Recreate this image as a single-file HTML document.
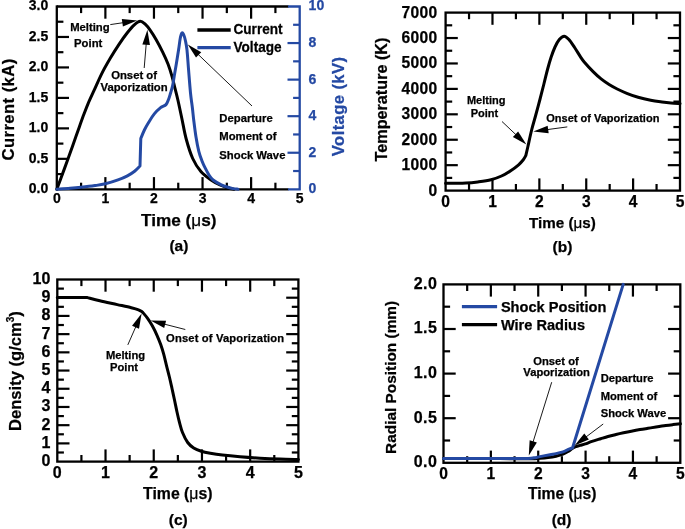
<!DOCTYPE html>
<html><head><meta charset="utf-8"><title>Wire explosion plots</title>
<style>
html,body{margin:0;padding:0;background:#fff;}
body{width:685px;height:529px;overflow:hidden;}
svg{display:block;}
text{font-family:"Liberation Sans",Arial,sans-serif;stroke-width:0.25px;}
</style></head><body>
<svg width="685" height="529" viewBox="0 0 685 529">
<rect width="685" height="529" fill="#fff"/>
<line x1="56.8" y1="6.5" x2="288.5" y2="6.5" stroke="#000" stroke-width="2.3" stroke-linecap="butt"/>
<line x1="56.8" y1="189.3" x2="288.5" y2="189.3" stroke="#000" stroke-width="2.3" stroke-linecap="butt"/>
<line x1="56.8" y1="5.35" x2="56.8" y2="190.45" stroke="#000" stroke-width="2.3" stroke-linecap="butt"/>
<polyline points="288,6.5 299.7,6.5 299.7,189.3 288,189.3" fill="none" stroke="#2449a3" stroke-width="2.3"/>
<line x1="81.09" y1="189.3" x2="81.09" y2="182.7" stroke="#000" stroke-width="2.2" stroke-linecap="butt"/>
<line x1="81.09" y1="6.5" x2="81.09" y2="13.1" stroke="#000" stroke-width="2.2" stroke-linecap="butt"/>
<line x1="105.38" y1="189.3" x2="105.38" y2="177.1" stroke="#000" stroke-width="2.2" stroke-linecap="butt"/>
<line x1="105.38" y1="6.5" x2="105.38" y2="18.7" stroke="#000" stroke-width="2.2" stroke-linecap="butt"/>
<line x1="129.67" y1="189.3" x2="129.67" y2="182.7" stroke="#000" stroke-width="2.2" stroke-linecap="butt"/>
<line x1="129.67" y1="6.5" x2="129.67" y2="13.1" stroke="#000" stroke-width="2.2" stroke-linecap="butt"/>
<line x1="153.96" y1="189.3" x2="153.96" y2="177.1" stroke="#000" stroke-width="2.2" stroke-linecap="butt"/>
<line x1="153.96" y1="6.5" x2="153.96" y2="18.7" stroke="#000" stroke-width="2.2" stroke-linecap="butt"/>
<line x1="178.25" y1="189.3" x2="178.25" y2="182.7" stroke="#000" stroke-width="2.2" stroke-linecap="butt"/>
<line x1="178.25" y1="6.5" x2="178.25" y2="13.1" stroke="#000" stroke-width="2.2" stroke-linecap="butt"/>
<line x1="202.54" y1="189.3" x2="202.54" y2="177.1" stroke="#000" stroke-width="2.2" stroke-linecap="butt"/>
<line x1="202.54" y1="6.5" x2="202.54" y2="18.7" stroke="#000" stroke-width="2.2" stroke-linecap="butt"/>
<line x1="226.83" y1="189.3" x2="226.83" y2="182.7" stroke="#000" stroke-width="2.2" stroke-linecap="butt"/>
<line x1="226.83" y1="6.5" x2="226.83" y2="13.1" stroke="#000" stroke-width="2.2" stroke-linecap="butt"/>
<line x1="251.12" y1="189.3" x2="251.12" y2="177.1" stroke="#000" stroke-width="2.2" stroke-linecap="butt"/>
<line x1="251.12" y1="6.5" x2="251.12" y2="18.7" stroke="#000" stroke-width="2.2" stroke-linecap="butt"/>
<line x1="275.41" y1="189.3" x2="275.41" y2="182.7" stroke="#000" stroke-width="2.2" stroke-linecap="butt"/>
<line x1="275.41" y1="6.5" x2="275.41" y2="13.1" stroke="#000" stroke-width="2.2" stroke-linecap="butt"/>
<line x1="56.8" y1="174.07" x2="63.4" y2="174.07" stroke="#000" stroke-width="2.2" stroke-linecap="butt"/>
<line x1="56.8" y1="158.83" x2="69" y2="158.83" stroke="#000" stroke-width="2.2" stroke-linecap="butt"/>
<line x1="56.8" y1="143.6" x2="63.4" y2="143.6" stroke="#000" stroke-width="2.2" stroke-linecap="butt"/>
<line x1="56.8" y1="128.37" x2="69" y2="128.37" stroke="#000" stroke-width="2.2" stroke-linecap="butt"/>
<line x1="56.8" y1="113.13" x2="63.4" y2="113.13" stroke="#000" stroke-width="2.2" stroke-linecap="butt"/>
<line x1="56.8" y1="97.9" x2="69" y2="97.9" stroke="#000" stroke-width="2.2" stroke-linecap="butt"/>
<line x1="56.8" y1="82.67" x2="63.4" y2="82.67" stroke="#000" stroke-width="2.2" stroke-linecap="butt"/>
<line x1="56.8" y1="67.43" x2="69" y2="67.43" stroke="#000" stroke-width="2.2" stroke-linecap="butt"/>
<line x1="56.8" y1="52.2" x2="63.4" y2="52.2" stroke="#000" stroke-width="2.2" stroke-linecap="butt"/>
<line x1="56.8" y1="36.97" x2="69" y2="36.97" stroke="#000" stroke-width="2.2" stroke-linecap="butt"/>
<line x1="56.8" y1="21.73" x2="63.4" y2="21.73" stroke="#000" stroke-width="2.2" stroke-linecap="butt"/>
<line x1="299.7" y1="171.02" x2="293.1" y2="171.02" stroke="#2449a3" stroke-width="2.2" stroke-linecap="butt"/>
<line x1="299.7" y1="152.74" x2="287.5" y2="152.74" stroke="#2449a3" stroke-width="2.2" stroke-linecap="butt"/>
<line x1="299.7" y1="134.46" x2="293.1" y2="134.46" stroke="#2449a3" stroke-width="2.2" stroke-linecap="butt"/>
<line x1="299.7" y1="116.18" x2="287.5" y2="116.18" stroke="#2449a3" stroke-width="2.2" stroke-linecap="butt"/>
<line x1="299.7" y1="97.9" x2="293.1" y2="97.9" stroke="#2449a3" stroke-width="2.2" stroke-linecap="butt"/>
<line x1="299.7" y1="79.62" x2="287.5" y2="79.62" stroke="#2449a3" stroke-width="2.2" stroke-linecap="butt"/>
<line x1="299.7" y1="61.34" x2="293.1" y2="61.34" stroke="#2449a3" stroke-width="2.2" stroke-linecap="butt"/>
<line x1="299.7" y1="43.06" x2="287.5" y2="43.06" stroke="#2449a3" stroke-width="2.2" stroke-linecap="butt"/>
<line x1="299.7" y1="24.78" x2="293.1" y2="24.78" stroke="#2449a3" stroke-width="2.2" stroke-linecap="butt"/>
<path d="M56.8,189.2 C57.67,186.88 60.23,180.08 62,175.3 C63.77,170.52 65.73,165.08 67.4,160.5 C69.07,155.92 70.55,151.88 72,147.8 C73.45,143.72 74.77,139.8 76.1,136 C77.43,132.2 78.7,128.62 80,125 C81.3,121.38 82.57,117.83 83.9,114.3 C85.23,110.77 86.27,107.87 88,103.8 C89.73,99.73 91.98,94.98 94.3,89.9 C96.62,84.82 99.22,78.62 101.9,73.3 C104.58,67.98 107.55,62.83 110.4,58 C113.25,53.17 116.15,48.55 119,44.3 C121.85,40.05 124.95,35.75 127.5,32.5 C130.05,29.25 132.17,26.68 134.3,24.8 C136.43,22.92 138.48,21.3 140.3,21.2 C142.12,21.1 143.53,22.68 145.2,24.2 C146.87,25.72 148.52,27.8 150.3,30.3 C152.08,32.8 153.83,35.57 155.9,39.2 C157.97,42.83 160.67,47.93 162.7,52.1 C164.73,56.27 166.55,60.17 168.1,64.2 C169.65,68.23 170.85,72.27 172,76.3 C173.15,80.33 174,84.37 175,88.4 C176,92.43 176.85,95.45 178,100.5 C179.15,105.55 180.53,112.28 181.9,118.7 C183.27,125.12 184.4,132.37 186.2,139 C188,145.63 190.25,153.08 192.7,158.5 C195.15,163.92 197.83,167.92 200.9,171.5 C203.97,175.08 207.92,177.75 211.1,180 C214.28,182.25 217.18,183.67 220,185 C222.82,186.33 225.67,187.3 228,188 C230.33,188.7 233,189 234,189.2" fill="none" stroke="#000" stroke-width="3" stroke-linejoin="round" stroke-linecap="round"/>
<path d="M56.8,189.2 C59,189.05 65.98,188.62 70,188.3 C74.02,187.98 76.73,187.75 80.9,187.3 C85.07,186.85 90.93,186.18 95,185.6 C99.07,185.02 101.47,184.75 105.3,183.8 C109.13,182.85 114.32,181.23 118,179.9 C121.68,178.57 124.63,177.25 127.4,175.8 C130.17,174.35 132.5,172.83 134.6,171.2 C136.7,169.57 139.1,166.87 140,166 L140.8,138.5 C141.4,137.08 143.05,132.75 144.4,130 C145.75,127.25 147.25,124.68 148.9,122 C150.55,119.32 152.35,116.3 154.3,113.9 C156.25,111.5 158.65,109.15 160.6,107.6 C162.55,106.05 164.65,106.03 166,104.6 C167.35,103.17 167.93,100.93 168.7,99 C169.47,97.07 169.93,95.27 170.6,93 C171.27,90.73 172.1,88.18 172.7,85.4 C173.3,82.62 173.57,80.08 174.2,76.3 C174.83,72.52 175.75,67.23 176.5,62.7 C177.25,58.17 178.07,53.22 178.7,49.1 C179.33,44.98 179.75,40.68 180.3,38 C180.85,35.32 181.42,33.5 182,33 C182.58,32.5 183.22,33.67 183.8,35 C184.38,36.33 184.97,38.5 185.5,41 C186.03,43.5 186.48,45.13 187,50 C187.52,54.87 188.02,63.03 188.6,70.2 C189.18,77.37 189.87,86.7 190.5,93 C191.13,99.3 191.85,103.38 192.4,108 C192.95,112.62 193.2,115.87 193.8,120.7 C194.4,125.53 195.17,131.9 196,137 C196.83,142.1 197.8,147.3 198.8,151.3 C199.8,155.3 200.97,158.27 202,161 C203.03,163.73 203.83,165.37 205,167.7 C206.17,170.03 207.65,172.95 209,175 C210.35,177.05 211.05,178.37 213.1,180 C215.15,181.63 218.82,183.58 221.3,184.8 C223.78,186.02 226.05,186.67 228,187.3 C229.95,187.93 231.33,188.28 233,188.6 C234.67,188.92 237.17,189.1 238,189.2" fill="none" stroke="#2449a3" stroke-width="3" stroke-linejoin="round" stroke-linecap="round"/>
<line x1="197.4" y1="30" x2="230.7" y2="30" stroke="#000" stroke-width="3.4" stroke-linecap="butt"/>
<line x1="197.4" y1="47.7" x2="230.7" y2="47.7" stroke="#2449a3" stroke-width="3.2" stroke-linecap="butt"/>
<text transform="translate(233.5,33.7) scale(1,1.09)" font-size="13.6" font-weight="bold" fill="#000" stroke="#000">Current</text>
<text transform="translate(233.5,51.8) scale(1,1.09)" font-size="13.6" font-weight="bold" fill="#000" stroke="#000">Voltage</text>
<text x="48.2" y="193.2" font-size="14" text-anchor="end" fill="#000" stroke="#000" font-weight="bold">0.0</text>
<text x="48.2" y="162.73" font-size="14" text-anchor="end" fill="#000" stroke="#000" font-weight="bold">0.5</text>
<text x="48.2" y="132.27" font-size="14" text-anchor="end" fill="#000" stroke="#000" font-weight="bold">1.0</text>
<text x="48.2" y="101.8" font-size="14" text-anchor="end" fill="#000" stroke="#000" font-weight="bold">1.5</text>
<text x="48.2" y="71.33" font-size="14" text-anchor="end" fill="#000" stroke="#000" font-weight="bold">2.0</text>
<text x="48.2" y="40.87" font-size="14" text-anchor="end" fill="#000" stroke="#000" font-weight="bold">2.5</text>
<text x="48.2" y="10.4" font-size="14" text-anchor="end" fill="#000" stroke="#000" font-weight="bold">3.0</text>
<text x="308.6" y="193.2" font-size="14" text-anchor="start" fill="#2449a3" stroke="#2449a3" font-weight="bold">0</text>
<text x="308.6" y="156.64" font-size="14" text-anchor="start" fill="#2449a3" stroke="#2449a3" font-weight="bold">2</text>
<text x="308.6" y="120.08" font-size="14" text-anchor="start" fill="#2449a3" stroke="#2449a3" font-weight="bold">4</text>
<text x="308.6" y="83.52" font-size="14" text-anchor="start" fill="#2449a3" stroke="#2449a3" font-weight="bold">6</text>
<text x="308.6" y="46.96" font-size="14" text-anchor="start" fill="#2449a3" stroke="#2449a3" font-weight="bold">8</text>
<text x="308.6" y="10.4" font-size="14" text-anchor="start" fill="#2449a3" stroke="#2449a3" font-weight="bold">10</text>
<text x="56.8" y="203.3" font-size="14" text-anchor="middle" fill="#000" stroke="#000" font-weight="bold">0</text>
<text x="105.38" y="203.3" font-size="14" text-anchor="middle" fill="#000" stroke="#000" font-weight="bold">1</text>
<text x="153.96" y="203.3" font-size="14" text-anchor="middle" fill="#000" stroke="#000" font-weight="bold">2</text>
<text x="202.54" y="203.3" font-size="14" text-anchor="middle" fill="#000" stroke="#000" font-weight="bold">3</text>
<text x="251.12" y="203.3" font-size="14" text-anchor="middle" fill="#000" stroke="#000" font-weight="bold">4</text>
<text x="299.7" y="203.3" font-size="14" text-anchor="middle" fill="#000" stroke="#000" font-weight="bold">5</text>
<text x="178.8" y="225.9" font-size="17.2" text-anchor="middle" fill="#000" stroke="#000" font-weight="bold">Time (<tspan font-weight="normal">&#956;</tspan>s)</text>
<text x="178.9" y="251.2" font-size="15.5" text-anchor="middle" fill="#000" stroke="#000" font-weight="bold">(a)</text>
<text transform="translate(14.2,109.4) rotate(-90)" font-size="16.6" text-anchor="middle" fill="#000" stroke="#000" font-weight="bold" letter-spacing="0.45">Current (kA)</text>
<text transform="translate(343.6,106.4) rotate(-90)" font-size="16.6" text-anchor="middle" fill="#2449a3" stroke="#2449a3" font-weight="bold" letter-spacing="0.4">Voltage (kV)</text>
<text x="89.9" y="30.7" font-size="11.3" text-anchor="middle" fill="#000" stroke="#000" font-weight="bold">Melting</text>
<text x="88.2" y="47" font-size="11.3" text-anchor="middle" fill="#000" stroke="#000" font-weight="bold">Point</text>
<text x="134.1" y="79.3" font-size="11.3" text-anchor="middle" fill="#000" stroke="#000" font-weight="bold">Onset of</text>
<text x="134.1" y="90.7" font-size="11.3" text-anchor="middle" fill="#000" stroke="#000" font-weight="bold">Vaporization</text>
<text x="219.3" y="121.8" font-size="11.3" text-anchor="start" fill="#000" stroke="#000" font-weight="bold">Departure</text>
<text x="219.3" y="140.2" font-size="11.3" text-anchor="start" fill="#000" stroke="#000" font-weight="bold">Moment of</text>
<text x="219.3" y="158.5" font-size="11.3" text-anchor="start" fill="#000" stroke="#000" font-weight="bold">Shock Wave</text>
<line x1="110.3" y1="24.6" x2="123.35" y2="22.66" stroke="#000" stroke-width="0.9"/>
<polygon points="137.2,20.6 122.92,26.56 121.8,19.05" fill="#000"/>
<line x1="144.2" y1="68" x2="146.23" y2="43.75" stroke="#000" stroke-width="0.9"/>
<polygon points="147.4,29.8 149.93,45.06 142.36,44.43" fill="#000"/>
<line x1="252" y1="106" x2="197.91" y2="54.18" stroke="#000" stroke-width="0.9"/>
<polygon points="187.8,44.5 201.26,52.13 196,57.62" fill="#000"/>
<rect x="445.6" y="12.6" width="234.4" height="178" fill="none" stroke="#000" stroke-width="2.3"/>
<line x1="469.04" y1="190.6" x2="469.04" y2="184" stroke="#000" stroke-width="2.2" stroke-linecap="butt"/>
<line x1="469.04" y1="12.6" x2="469.04" y2="19.2" stroke="#000" stroke-width="2.2" stroke-linecap="butt"/>
<line x1="492.48" y1="190.6" x2="492.48" y2="178.4" stroke="#000" stroke-width="2.2" stroke-linecap="butt"/>
<line x1="492.48" y1="12.6" x2="492.48" y2="24.8" stroke="#000" stroke-width="2.2" stroke-linecap="butt"/>
<line x1="515.92" y1="190.6" x2="515.92" y2="184" stroke="#000" stroke-width="2.2" stroke-linecap="butt"/>
<line x1="515.92" y1="12.6" x2="515.92" y2="19.2" stroke="#000" stroke-width="2.2" stroke-linecap="butt"/>
<line x1="539.36" y1="190.6" x2="539.36" y2="178.4" stroke="#000" stroke-width="2.2" stroke-linecap="butt"/>
<line x1="539.36" y1="12.6" x2="539.36" y2="24.8" stroke="#000" stroke-width="2.2" stroke-linecap="butt"/>
<line x1="562.8" y1="190.6" x2="562.8" y2="184" stroke="#000" stroke-width="2.2" stroke-linecap="butt"/>
<line x1="562.8" y1="12.6" x2="562.8" y2="19.2" stroke="#000" stroke-width="2.2" stroke-linecap="butt"/>
<line x1="586.24" y1="190.6" x2="586.24" y2="178.4" stroke="#000" stroke-width="2.2" stroke-linecap="butt"/>
<line x1="586.24" y1="12.6" x2="586.24" y2="24.8" stroke="#000" stroke-width="2.2" stroke-linecap="butt"/>
<line x1="609.68" y1="190.6" x2="609.68" y2="184" stroke="#000" stroke-width="2.2" stroke-linecap="butt"/>
<line x1="609.68" y1="12.6" x2="609.68" y2="19.2" stroke="#000" stroke-width="2.2" stroke-linecap="butt"/>
<line x1="633.12" y1="190.6" x2="633.12" y2="178.4" stroke="#000" stroke-width="2.2" stroke-linecap="butt"/>
<line x1="633.12" y1="12.6" x2="633.12" y2="24.8" stroke="#000" stroke-width="2.2" stroke-linecap="butt"/>
<line x1="656.56" y1="190.6" x2="656.56" y2="184" stroke="#000" stroke-width="2.2" stroke-linecap="butt"/>
<line x1="656.56" y1="12.6" x2="656.56" y2="19.2" stroke="#000" stroke-width="2.2" stroke-linecap="butt"/>
<line x1="445.6" y1="177.89" x2="452.2" y2="177.89" stroke="#000" stroke-width="2.2" stroke-linecap="butt"/>
<line x1="680" y1="177.89" x2="673.4" y2="177.89" stroke="#000" stroke-width="2.2" stroke-linecap="butt"/>
<line x1="445.6" y1="165.17" x2="457.8" y2="165.17" stroke="#000" stroke-width="2.2" stroke-linecap="butt"/>
<line x1="680" y1="165.17" x2="667.8" y2="165.17" stroke="#000" stroke-width="2.2" stroke-linecap="butt"/>
<line x1="445.6" y1="152.46" x2="452.2" y2="152.46" stroke="#000" stroke-width="2.2" stroke-linecap="butt"/>
<line x1="680" y1="152.46" x2="673.4" y2="152.46" stroke="#000" stroke-width="2.2" stroke-linecap="butt"/>
<line x1="445.6" y1="139.74" x2="457.8" y2="139.74" stroke="#000" stroke-width="2.2" stroke-linecap="butt"/>
<line x1="680" y1="139.74" x2="667.8" y2="139.74" stroke="#000" stroke-width="2.2" stroke-linecap="butt"/>
<line x1="445.6" y1="127.03" x2="452.2" y2="127.03" stroke="#000" stroke-width="2.2" stroke-linecap="butt"/>
<line x1="680" y1="127.03" x2="673.4" y2="127.03" stroke="#000" stroke-width="2.2" stroke-linecap="butt"/>
<line x1="445.6" y1="114.31" x2="457.8" y2="114.31" stroke="#000" stroke-width="2.2" stroke-linecap="butt"/>
<line x1="680" y1="114.31" x2="667.8" y2="114.31" stroke="#000" stroke-width="2.2" stroke-linecap="butt"/>
<line x1="445.6" y1="101.6" x2="452.2" y2="101.6" stroke="#000" stroke-width="2.2" stroke-linecap="butt"/>
<line x1="680" y1="101.6" x2="673.4" y2="101.6" stroke="#000" stroke-width="2.2" stroke-linecap="butt"/>
<line x1="445.6" y1="88.89" x2="457.8" y2="88.89" stroke="#000" stroke-width="2.2" stroke-linecap="butt"/>
<line x1="680" y1="88.89" x2="667.8" y2="88.89" stroke="#000" stroke-width="2.2" stroke-linecap="butt"/>
<line x1="445.6" y1="76.17" x2="452.2" y2="76.17" stroke="#000" stroke-width="2.2" stroke-linecap="butt"/>
<line x1="680" y1="76.17" x2="673.4" y2="76.17" stroke="#000" stroke-width="2.2" stroke-linecap="butt"/>
<line x1="445.6" y1="63.46" x2="457.8" y2="63.46" stroke="#000" stroke-width="2.2" stroke-linecap="butt"/>
<line x1="680" y1="63.46" x2="667.8" y2="63.46" stroke="#000" stroke-width="2.2" stroke-linecap="butt"/>
<line x1="445.6" y1="50.74" x2="452.2" y2="50.74" stroke="#000" stroke-width="2.2" stroke-linecap="butt"/>
<line x1="680" y1="50.74" x2="673.4" y2="50.74" stroke="#000" stroke-width="2.2" stroke-linecap="butt"/>
<line x1="445.6" y1="38.03" x2="457.8" y2="38.03" stroke="#000" stroke-width="2.2" stroke-linecap="butt"/>
<line x1="680" y1="38.03" x2="667.8" y2="38.03" stroke="#000" stroke-width="2.2" stroke-linecap="butt"/>
<line x1="445.6" y1="25.31" x2="452.2" y2="25.31" stroke="#000" stroke-width="2.2" stroke-linecap="butt"/>
<line x1="680" y1="25.31" x2="673.4" y2="25.31" stroke="#000" stroke-width="2.2" stroke-linecap="butt"/>
<path d="M445.6,183.3 C447.17,183.3 451.6,183.33 455,183.3 C458.4,183.27 462.2,183.33 466,183.1 C469.8,182.87 473.63,182.47 477.8,181.9 C481.97,181.33 487.05,180.68 491,179.7 C494.95,178.72 498.22,177.5 501.5,176 C504.78,174.5 507.85,172.57 510.7,170.7 C513.55,168.83 516.5,166.62 518.6,164.8 C520.7,162.98 522.1,161.33 523.3,159.8 C524.5,158.27 525.38,156.3 525.8,155.6 C526.13,154.17 526.85,151.18 527.8,147 C528.75,142.82 530.22,135.67 531.5,130.5 C532.78,125.33 534.12,121.08 535.5,116 C536.88,110.92 538.4,105.33 539.8,100 C541.2,94.67 542.62,89.08 543.9,84 C545.18,78.92 546.32,73.92 547.5,69.5 C548.68,65.08 549.75,61.25 551,57.5 C552.25,53.75 553.62,50 555,47 C556.38,44 557.77,41.3 559.3,39.5 C560.83,37.7 562.6,36.2 564.2,36.2 C565.8,36.2 567.17,37.62 568.9,39.5 C570.63,41.38 572.72,44.68 574.6,47.5 C576.48,50.32 578.6,53.98 580.2,56.4 C581.8,58.82 582.05,59.47 584.2,62 C586.35,64.53 590.28,68.78 593.1,71.6 C595.92,74.42 598.43,76.75 601.1,78.9 C603.77,81.05 606.42,82.82 609.1,84.5 C611.78,86.18 614.25,87.53 617.2,89 C620.15,90.47 623.32,91.92 626.8,93.3 C630.28,94.68 634.12,96.13 638.1,97.3 C642.08,98.47 646.72,99.52 650.7,100.3 C654.68,101.08 658.62,101.55 662,102 C665.38,102.45 668,102.73 671,103 C674,103.27 678.5,103.5 680,103.6" fill="none" stroke="#000" stroke-width="3" stroke-linejoin="round" stroke-linecap="round"/>
<text x="437.4" y="195.6" font-size="15.6" text-anchor="end" fill="#000" stroke="#000" font-weight="bold" letter-spacing="0.3">0</text>
<text x="437.4" y="170.17" font-size="15.6" text-anchor="end" fill="#000" stroke="#000" font-weight="bold" letter-spacing="0.3">1000</text>
<text x="437.4" y="144.74" font-size="15.6" text-anchor="end" fill="#000" stroke="#000" font-weight="bold" letter-spacing="0.3">2000</text>
<text x="437.4" y="119.31" font-size="15.6" text-anchor="end" fill="#000" stroke="#000" font-weight="bold" letter-spacing="0.3">3000</text>
<text x="437.4" y="93.89" font-size="15.6" text-anchor="end" fill="#000" stroke="#000" font-weight="bold" letter-spacing="0.3">4000</text>
<text x="437.4" y="68.46" font-size="15.6" text-anchor="end" fill="#000" stroke="#000" font-weight="bold" letter-spacing="0.3">5000</text>
<text x="437.4" y="43.03" font-size="15.6" text-anchor="end" fill="#000" stroke="#000" font-weight="bold" letter-spacing="0.3">6000</text>
<text x="437.4" y="17.6" font-size="15.6" text-anchor="end" fill="#000" stroke="#000" font-weight="bold" letter-spacing="0.3">7000</text>
<text x="445.6" y="206.9" font-size="15.6" text-anchor="middle" fill="#000" stroke="#000" font-weight="bold">0</text>
<text x="492.48" y="206.9" font-size="15.6" text-anchor="middle" fill="#000" stroke="#000" font-weight="bold">1</text>
<text x="539.36" y="206.9" font-size="15.6" text-anchor="middle" fill="#000" stroke="#000" font-weight="bold">2</text>
<text x="586.24" y="206.9" font-size="15.6" text-anchor="middle" fill="#000" stroke="#000" font-weight="bold">3</text>
<text x="633.12" y="206.9" font-size="15.6" text-anchor="middle" fill="#000" stroke="#000" font-weight="bold">4</text>
<text x="680" y="206.9" font-size="15.6" text-anchor="middle" fill="#000" stroke="#000" font-weight="bold">5</text>
<text x="562.4" y="227.7" font-size="15.2" text-anchor="middle" fill="#000" stroke="#000" font-weight="bold">Time (<tspan font-weight="normal">&#956;</tspan>s)</text>
<text x="562.4" y="251.5" font-size="15.5" text-anchor="middle" fill="#000" stroke="#000" font-weight="bold">(b)</text>
<text transform="translate(387.2,99.5) rotate(-90)" font-size="16.2" text-anchor="middle" fill="#000" stroke="#000" font-weight="bold">Temperature (K)</text>
<text x="486.2" y="103.5" font-size="11" text-anchor="middle" fill="#000" stroke="#000" font-weight="bold">Melting</text>
<text x="484.4" y="117" font-size="11" text-anchor="middle" fill="#000" stroke="#000" font-weight="bold">Point</text>
<text x="546.3" y="121.8" font-size="11" text-anchor="start" fill="#000" stroke="#000" font-weight="bold">Onset of Vaporization</text>
<line x1="502" y1="121.5" x2="516.23" y2="134.98" stroke="#000" stroke-width="0.9"/>
<polygon points="526.4,144.6 512.89,137.05 518.12,131.53" fill="#000"/>
<line x1="567.3" y1="126.9" x2="547.17" y2="129.62" stroke="#000" stroke-width="0.9"/>
<polygon points="533.3,131.5 547.66,125.72 548.67,133.25" fill="#000"/>
<rect x="57.3" y="279.5" width="241.1" height="182.1" fill="none" stroke="#000" stroke-width="2.3"/>
<line x1="81.41" y1="461.6" x2="81.41" y2="455" stroke="#000" stroke-width="2.2" stroke-linecap="butt"/>
<line x1="81.41" y1="279.5" x2="81.41" y2="286.1" stroke="#000" stroke-width="2.2" stroke-linecap="butt"/>
<line x1="105.52" y1="461.6" x2="105.52" y2="449.4" stroke="#000" stroke-width="2.2" stroke-linecap="butt"/>
<line x1="105.52" y1="279.5" x2="105.52" y2="291.7" stroke="#000" stroke-width="2.2" stroke-linecap="butt"/>
<line x1="129.63" y1="461.6" x2="129.63" y2="455" stroke="#000" stroke-width="2.2" stroke-linecap="butt"/>
<line x1="129.63" y1="279.5" x2="129.63" y2="286.1" stroke="#000" stroke-width="2.2" stroke-linecap="butt"/>
<line x1="153.74" y1="461.6" x2="153.74" y2="449.4" stroke="#000" stroke-width="2.2" stroke-linecap="butt"/>
<line x1="153.74" y1="279.5" x2="153.74" y2="291.7" stroke="#000" stroke-width="2.2" stroke-linecap="butt"/>
<line x1="177.85" y1="461.6" x2="177.85" y2="455" stroke="#000" stroke-width="2.2" stroke-linecap="butt"/>
<line x1="177.85" y1="279.5" x2="177.85" y2="286.1" stroke="#000" stroke-width="2.2" stroke-linecap="butt"/>
<line x1="201.96" y1="461.6" x2="201.96" y2="449.4" stroke="#000" stroke-width="2.2" stroke-linecap="butt"/>
<line x1="201.96" y1="279.5" x2="201.96" y2="291.7" stroke="#000" stroke-width="2.2" stroke-linecap="butt"/>
<line x1="226.07" y1="461.6" x2="226.07" y2="455" stroke="#000" stroke-width="2.2" stroke-linecap="butt"/>
<line x1="226.07" y1="279.5" x2="226.07" y2="286.1" stroke="#000" stroke-width="2.2" stroke-linecap="butt"/>
<line x1="250.18" y1="461.6" x2="250.18" y2="449.4" stroke="#000" stroke-width="2.2" stroke-linecap="butt"/>
<line x1="250.18" y1="279.5" x2="250.18" y2="291.7" stroke="#000" stroke-width="2.2" stroke-linecap="butt"/>
<line x1="274.29" y1="461.6" x2="274.29" y2="455" stroke="#000" stroke-width="2.2" stroke-linecap="butt"/>
<line x1="274.29" y1="279.5" x2="274.29" y2="286.1" stroke="#000" stroke-width="2.2" stroke-linecap="butt"/>
<line x1="57.3" y1="452.5" x2="63.9" y2="452.5" stroke="#000" stroke-width="2.2" stroke-linecap="butt"/>
<line x1="298.4" y1="452.5" x2="291.8" y2="452.5" stroke="#000" stroke-width="2.2" stroke-linecap="butt"/>
<line x1="57.3" y1="443.39" x2="69.5" y2="443.39" stroke="#000" stroke-width="2.2" stroke-linecap="butt"/>
<line x1="298.4" y1="443.39" x2="286.2" y2="443.39" stroke="#000" stroke-width="2.2" stroke-linecap="butt"/>
<line x1="57.3" y1="434.29" x2="63.9" y2="434.29" stroke="#000" stroke-width="2.2" stroke-linecap="butt"/>
<line x1="298.4" y1="434.29" x2="291.8" y2="434.29" stroke="#000" stroke-width="2.2" stroke-linecap="butt"/>
<line x1="57.3" y1="425.18" x2="69.5" y2="425.18" stroke="#000" stroke-width="2.2" stroke-linecap="butt"/>
<line x1="298.4" y1="425.18" x2="286.2" y2="425.18" stroke="#000" stroke-width="2.2" stroke-linecap="butt"/>
<line x1="57.3" y1="416.08" x2="63.9" y2="416.08" stroke="#000" stroke-width="2.2" stroke-linecap="butt"/>
<line x1="298.4" y1="416.08" x2="291.8" y2="416.08" stroke="#000" stroke-width="2.2" stroke-linecap="butt"/>
<line x1="57.3" y1="406.97" x2="69.5" y2="406.97" stroke="#000" stroke-width="2.2" stroke-linecap="butt"/>
<line x1="298.4" y1="406.97" x2="286.2" y2="406.97" stroke="#000" stroke-width="2.2" stroke-linecap="butt"/>
<line x1="57.3" y1="397.87" x2="63.9" y2="397.87" stroke="#000" stroke-width="2.2" stroke-linecap="butt"/>
<line x1="298.4" y1="397.87" x2="291.8" y2="397.87" stroke="#000" stroke-width="2.2" stroke-linecap="butt"/>
<line x1="57.3" y1="388.76" x2="69.5" y2="388.76" stroke="#000" stroke-width="2.2" stroke-linecap="butt"/>
<line x1="298.4" y1="388.76" x2="286.2" y2="388.76" stroke="#000" stroke-width="2.2" stroke-linecap="butt"/>
<line x1="57.3" y1="379.66" x2="63.9" y2="379.66" stroke="#000" stroke-width="2.2" stroke-linecap="butt"/>
<line x1="298.4" y1="379.66" x2="291.8" y2="379.66" stroke="#000" stroke-width="2.2" stroke-linecap="butt"/>
<line x1="57.3" y1="370.55" x2="69.5" y2="370.55" stroke="#000" stroke-width="2.2" stroke-linecap="butt"/>
<line x1="298.4" y1="370.55" x2="286.2" y2="370.55" stroke="#000" stroke-width="2.2" stroke-linecap="butt"/>
<line x1="57.3" y1="361.45" x2="63.9" y2="361.45" stroke="#000" stroke-width="2.2" stroke-linecap="butt"/>
<line x1="298.4" y1="361.45" x2="291.8" y2="361.45" stroke="#000" stroke-width="2.2" stroke-linecap="butt"/>
<line x1="57.3" y1="352.34" x2="69.5" y2="352.34" stroke="#000" stroke-width="2.2" stroke-linecap="butt"/>
<line x1="298.4" y1="352.34" x2="286.2" y2="352.34" stroke="#000" stroke-width="2.2" stroke-linecap="butt"/>
<line x1="57.3" y1="343.24" x2="63.9" y2="343.24" stroke="#000" stroke-width="2.2" stroke-linecap="butt"/>
<line x1="298.4" y1="343.24" x2="291.8" y2="343.24" stroke="#000" stroke-width="2.2" stroke-linecap="butt"/>
<line x1="57.3" y1="334.13" x2="69.5" y2="334.13" stroke="#000" stroke-width="2.2" stroke-linecap="butt"/>
<line x1="298.4" y1="334.13" x2="286.2" y2="334.13" stroke="#000" stroke-width="2.2" stroke-linecap="butt"/>
<line x1="57.3" y1="325.02" x2="63.9" y2="325.02" stroke="#000" stroke-width="2.2" stroke-linecap="butt"/>
<line x1="298.4" y1="325.02" x2="291.8" y2="325.02" stroke="#000" stroke-width="2.2" stroke-linecap="butt"/>
<line x1="57.3" y1="315.92" x2="69.5" y2="315.92" stroke="#000" stroke-width="2.2" stroke-linecap="butt"/>
<line x1="298.4" y1="315.92" x2="286.2" y2="315.92" stroke="#000" stroke-width="2.2" stroke-linecap="butt"/>
<line x1="57.3" y1="306.82" x2="63.9" y2="306.82" stroke="#000" stroke-width="2.2" stroke-linecap="butt"/>
<line x1="298.4" y1="306.82" x2="291.8" y2="306.82" stroke="#000" stroke-width="2.2" stroke-linecap="butt"/>
<line x1="57.3" y1="297.71" x2="69.5" y2="297.71" stroke="#000" stroke-width="2.2" stroke-linecap="butt"/>
<line x1="298.4" y1="297.71" x2="286.2" y2="297.71" stroke="#000" stroke-width="2.2" stroke-linecap="butt"/>
<line x1="57.3" y1="288.61" x2="63.9" y2="288.61" stroke="#000" stroke-width="2.2" stroke-linecap="butt"/>
<line x1="298.4" y1="288.61" x2="291.8" y2="288.61" stroke="#000" stroke-width="2.2" stroke-linecap="butt"/>
<path d="M57.3,297.6 L87.5,297.6  C89.55,298.13 94.83,299.63 99.8,300.8 C104.77,301.97 112.05,303.45 117.3,304.6 C122.55,305.75 127.77,306.83 131.3,307.7 C134.83,308.57 136.65,309.08 138.5,309.8 C140.35,310.52 141.75,311.63 142.4,312 C143.27,313.05 145.95,316 147.6,318.3 C149.25,320.6 150.73,322.97 152.3,325.8 C153.87,328.63 155.58,332.13 157,335.3 C158.42,338.47 159.68,341.65 160.8,344.8 C161.92,347.95 162.75,350.73 163.7,354.2 C164.65,357.67 165.55,361.8 166.5,365.6 C167.45,369.4 168.48,373.18 169.4,377 C170.32,380.82 171.15,384.67 172,388.5 C172.85,392.33 173.67,396.08 174.5,400 C175.33,403.92 176.17,408.25 177,412 C177.83,415.75 178.58,419.08 179.5,422.5 C180.42,425.92 181.13,429.17 182.5,432.5 C183.87,435.83 185.83,439.92 187.7,442.5 C189.57,445.08 191.43,446.53 193.7,448 C195.97,449.47 198.53,450.42 201.3,451.3 C204.07,452.18 206.78,452.67 210.3,453.3 C213.82,453.93 217.45,454.52 222.4,455.1 C227.35,455.68 233.73,456.28 240,456.8 C246.27,457.32 253.33,457.82 260,458.2 C266.67,458.58 273.6,458.88 280,459.1 C286.4,459.32 295.33,459.43 298.4,459.5" fill="none" stroke="#000" stroke-width="3" stroke-linejoin="round" stroke-linecap="round"/>
<text x="50.4" y="466" font-size="16" text-anchor="end" fill="#000" stroke="#000" font-weight="bold">0</text>
<text x="50.4" y="447.79" font-size="16" text-anchor="end" fill="#000" stroke="#000" font-weight="bold">1</text>
<text x="50.4" y="429.58" font-size="16" text-anchor="end" fill="#000" stroke="#000" font-weight="bold">2</text>
<text x="50.4" y="411.37" font-size="16" text-anchor="end" fill="#000" stroke="#000" font-weight="bold">3</text>
<text x="50.4" y="393.16" font-size="16" text-anchor="end" fill="#000" stroke="#000" font-weight="bold">4</text>
<text x="50.4" y="374.95" font-size="16" text-anchor="end" fill="#000" stroke="#000" font-weight="bold">5</text>
<text x="50.4" y="356.74" font-size="16" text-anchor="end" fill="#000" stroke="#000" font-weight="bold">6</text>
<text x="50.4" y="338.53" font-size="16" text-anchor="end" fill="#000" stroke="#000" font-weight="bold">7</text>
<text x="50.4" y="320.32" font-size="16" text-anchor="end" fill="#000" stroke="#000" font-weight="bold">8</text>
<text x="50.4" y="302.11" font-size="16" text-anchor="end" fill="#000" stroke="#000" font-weight="bold">9</text>
<text x="50.4" y="283.9" font-size="16" text-anchor="end" fill="#000" stroke="#000" font-weight="bold">10</text>
<text x="57.3" y="478.1" font-size="16" text-anchor="middle" fill="#000" stroke="#000" font-weight="bold">0</text>
<text x="105.52" y="478.1" font-size="16" text-anchor="middle" fill="#000" stroke="#000" font-weight="bold">1</text>
<text x="153.74" y="478.1" font-size="16" text-anchor="middle" fill="#000" stroke="#000" font-weight="bold">2</text>
<text x="201.96" y="478.1" font-size="16" text-anchor="middle" fill="#000" stroke="#000" font-weight="bold">3</text>
<text x="250.18" y="478.1" font-size="16" text-anchor="middle" fill="#000" stroke="#000" font-weight="bold">4</text>
<text x="298.4" y="478.1" font-size="16" text-anchor="middle" fill="#000" stroke="#000" font-weight="bold">5</text>
<text x="177.8" y="498.9" font-size="15.8" text-anchor="middle" fill="#000" stroke="#000" font-weight="bold">Time (<tspan font-weight="normal">&#956;</tspan>s)</text>
<text x="178.3" y="524.8" font-size="15.5" text-anchor="middle" fill="#000" stroke="#000" font-weight="bold">(c)</text>
<text transform="translate(21.2,431) rotate(-90)" font-size="16.6" fill="#000" stroke="#000" font-weight="bold">Density (g/cm<tspan font-size="10" dy="-7">3</tspan><tspan dy="7">)</tspan></text>
<text x="125.5" y="358.6" font-size="11.2" text-anchor="middle" fill="#000" stroke="#000" font-weight="bold">Melting</text>
<text x="124" y="371.1" font-size="11.2" text-anchor="middle" fill="#000" stroke="#000" font-weight="bold">Point</text>
<text x="166.1" y="342.2" font-size="11.2" text-anchor="start" fill="#000" stroke="#000" font-weight="bold" letter-spacing="0.15">Onset of Vaporization</text>
<line x1="127.8" y1="344.9" x2="135.95" y2="326.41" stroke="#000" stroke-width="0.9"/>
<polygon points="141.6,313.6 139.03,328.86 132.07,325.79" fill="#000"/>
<line x1="185.3" y1="329.5" x2="164.16" y2="324.08" stroke="#000" stroke-width="0.9"/>
<polygon points="150.6,320.6 166.07,320.65 164.19,328.01" fill="#000"/>
<rect x="443.5" y="284.4" width="236.8" height="178.4" fill="none" stroke="#000" stroke-width="2.3"/>
<line x1="467.18" y1="462.8" x2="467.18" y2="456.2" stroke="#000" stroke-width="2.2" stroke-linecap="butt"/>
<line x1="467.18" y1="284.4" x2="467.18" y2="291" stroke="#000" stroke-width="2.2" stroke-linecap="butt"/>
<line x1="490.86" y1="462.8" x2="490.86" y2="450.6" stroke="#000" stroke-width="2.2" stroke-linecap="butt"/>
<line x1="490.86" y1="284.4" x2="490.86" y2="296.6" stroke="#000" stroke-width="2.2" stroke-linecap="butt"/>
<line x1="514.54" y1="462.8" x2="514.54" y2="456.2" stroke="#000" stroke-width="2.2" stroke-linecap="butt"/>
<line x1="514.54" y1="284.4" x2="514.54" y2="291" stroke="#000" stroke-width="2.2" stroke-linecap="butt"/>
<line x1="538.22" y1="462.8" x2="538.22" y2="450.6" stroke="#000" stroke-width="2.2" stroke-linecap="butt"/>
<line x1="538.22" y1="284.4" x2="538.22" y2="296.6" stroke="#000" stroke-width="2.2" stroke-linecap="butt"/>
<line x1="561.9" y1="462.8" x2="561.9" y2="456.2" stroke="#000" stroke-width="2.2" stroke-linecap="butt"/>
<line x1="561.9" y1="284.4" x2="561.9" y2="291" stroke="#000" stroke-width="2.2" stroke-linecap="butt"/>
<line x1="585.58" y1="462.8" x2="585.58" y2="450.6" stroke="#000" stroke-width="2.2" stroke-linecap="butt"/>
<line x1="585.58" y1="284.4" x2="585.58" y2="296.6" stroke="#000" stroke-width="2.2" stroke-linecap="butt"/>
<line x1="609.26" y1="462.8" x2="609.26" y2="456.2" stroke="#000" stroke-width="2.2" stroke-linecap="butt"/>
<line x1="609.26" y1="284.4" x2="609.26" y2="291" stroke="#000" stroke-width="2.2" stroke-linecap="butt"/>
<line x1="632.94" y1="462.8" x2="632.94" y2="450.6" stroke="#000" stroke-width="2.2" stroke-linecap="butt"/>
<line x1="632.94" y1="284.4" x2="632.94" y2="296.6" stroke="#000" stroke-width="2.2" stroke-linecap="butt"/>
<line x1="656.62" y1="462.8" x2="656.62" y2="456.2" stroke="#000" stroke-width="2.2" stroke-linecap="butt"/>
<line x1="656.62" y1="284.4" x2="656.62" y2="291" stroke="#000" stroke-width="2.2" stroke-linecap="butt"/>
<line x1="443.5" y1="440.5" x2="450.1" y2="440.5" stroke="#000" stroke-width="2.2" stroke-linecap="butt"/>
<line x1="680.3" y1="440.5" x2="673.7" y2="440.5" stroke="#000" stroke-width="2.2" stroke-linecap="butt"/>
<line x1="443.5" y1="418.2" x2="455.7" y2="418.2" stroke="#000" stroke-width="2.2" stroke-linecap="butt"/>
<line x1="680.3" y1="418.2" x2="668.1" y2="418.2" stroke="#000" stroke-width="2.2" stroke-linecap="butt"/>
<line x1="443.5" y1="395.9" x2="450.1" y2="395.9" stroke="#000" stroke-width="2.2" stroke-linecap="butt"/>
<line x1="680.3" y1="395.9" x2="673.7" y2="395.9" stroke="#000" stroke-width="2.2" stroke-linecap="butt"/>
<line x1="443.5" y1="373.6" x2="455.7" y2="373.6" stroke="#000" stroke-width="2.2" stroke-linecap="butt"/>
<line x1="680.3" y1="373.6" x2="668.1" y2="373.6" stroke="#000" stroke-width="2.2" stroke-linecap="butt"/>
<line x1="443.5" y1="351.3" x2="450.1" y2="351.3" stroke="#000" stroke-width="2.2" stroke-linecap="butt"/>
<line x1="680.3" y1="351.3" x2="673.7" y2="351.3" stroke="#000" stroke-width="2.2" stroke-linecap="butt"/>
<line x1="443.5" y1="329" x2="455.7" y2="329" stroke="#000" stroke-width="2.2" stroke-linecap="butt"/>
<line x1="680.3" y1="329" x2="668.1" y2="329" stroke="#000" stroke-width="2.2" stroke-linecap="butt"/>
<line x1="443.5" y1="306.7" x2="450.1" y2="306.7" stroke="#000" stroke-width="2.2" stroke-linecap="butt"/>
<line x1="680.3" y1="306.7" x2="673.7" y2="306.7" stroke="#000" stroke-width="2.2" stroke-linecap="butt"/>
<path d="M443.5,458.6 C452.92,458.6 485.58,458.58 500,458.6 C514.42,458.62 523.33,458.75 530,458.7 C536.67,458.65 537,458.48 540,458.3 C543,458.12 545.33,457.95 548,457.6 C550.67,457.25 553.5,456.77 556,456.2 C558.5,455.63 561,454.97 563,454.2 C565,453.43 566.4,452.6 568,451.6 C569.6,450.6 571.27,449.03 572.6,448.2 C573.93,447.37 574.77,447.07 576,446.6 C577.23,446.13 578.45,445.85 580,445.4 C581.55,444.95 583.3,444.57 585.3,443.9 C587.3,443.23 589.43,442.27 592,441.4 C594.57,440.53 598.03,439.52 600.7,438.7 C603.37,437.88 605.45,437.2 608,436.5 C610.55,435.8 613.42,435.12 616,434.5 C618.58,433.88 620.95,433.35 623.5,432.8 C626.05,432.25 628.55,431.73 631.3,431.2 C634.05,430.67 637.22,430.08 640,429.6 C642.78,429.12 645.33,428.73 648,428.3 C650.67,427.87 653.03,427.47 656,427 C658.97,426.53 662.97,425.9 665.8,425.5 C668.63,425.1 670.57,424.88 673,424.6 C675.43,424.32 679.17,423.93 680.4,423.8" fill="none" stroke="#000" stroke-width="3" stroke-linejoin="round" stroke-linecap="round"/>
<path d="M443.5,458.6 C452.92,458.6 485.92,458.63 500,458.6 C514.08,458.57 522.33,458.53 528,458.4 C533.67,458.27 532,458.1 534,457.8 C536,457.5 537.33,457.12 540,456.6 C542.67,456.08 547.33,455.2 550,454.7 C552.67,454.2 554.17,453.98 556,453.6 C557.83,453.22 559.42,452.87 561,452.4 C562.58,451.93 564.17,451.33 565.5,450.8 C566.83,450.27 567.82,449.7 569,449.2 C570.18,448.7 572,448.03 572.6,447.8 L623.2,284.4" fill="none" stroke="#2449a3" stroke-width="3" stroke-linejoin="round" stroke-linecap="round"/>
<line x1="461.9" y1="306.6" x2="497.1" y2="306.6" stroke="#2449a3" stroke-width="3.2" stroke-linecap="butt"/>
<line x1="461.9" y1="324.7" x2="497.1" y2="324.7" stroke="#000" stroke-width="3.2" stroke-linecap="butt"/>
<text x="500.9" y="311.9" font-size="14.6" text-anchor="start" fill="#000" stroke="#000" font-weight="bold">Shock Position</text>
<text x="500.9" y="329.8" font-size="14.6" text-anchor="start" fill="#000" stroke="#000" font-weight="bold">Wire Radius</text>
<text x="437.2" y="467.2" font-size="16" text-anchor="end" fill="#000" stroke="#000" font-weight="bold" letter-spacing="0.4">0.0</text>
<text x="437.2" y="422.6" font-size="16" text-anchor="end" fill="#000" stroke="#000" font-weight="bold" letter-spacing="0.4">0.5</text>
<text x="437.2" y="378" font-size="16" text-anchor="end" fill="#000" stroke="#000" font-weight="bold" letter-spacing="0.4">1.0</text>
<text x="437.2" y="333.4" font-size="16" text-anchor="end" fill="#000" stroke="#000" font-weight="bold" letter-spacing="0.4">1.5</text>
<text x="437.2" y="288.8" font-size="16" text-anchor="end" fill="#000" stroke="#000" font-weight="bold" letter-spacing="0.4">2.0</text>
<text x="443.5" y="478.9" font-size="15.6" text-anchor="middle" fill="#000" stroke="#000" font-weight="bold">0</text>
<text x="490.86" y="478.9" font-size="15.6" text-anchor="middle" fill="#000" stroke="#000" font-weight="bold">1</text>
<text x="538.22" y="478.9" font-size="15.6" text-anchor="middle" fill="#000" stroke="#000" font-weight="bold">2</text>
<text x="585.58" y="478.9" font-size="15.6" text-anchor="middle" fill="#000" stroke="#000" font-weight="bold">3</text>
<text x="632.94" y="478.9" font-size="15.6" text-anchor="middle" fill="#000" stroke="#000" font-weight="bold">4</text>
<text x="680.3" y="478.9" font-size="15.6" text-anchor="middle" fill="#000" stroke="#000" font-weight="bold">5</text>
<text x="562.2" y="498.8" font-size="15.6" text-anchor="middle" fill="#000" stroke="#000" font-weight="bold">Time (<tspan font-weight="normal">&#956;</tspan>s)</text>
<text x="561.6" y="525" font-size="15.5" text-anchor="middle" fill="#000" stroke="#000" font-weight="bold">(d)</text>
<text transform="translate(395.7,377.4) rotate(-90)" font-size="15.4" text-anchor="middle" fill="#000" stroke="#000" font-weight="bold">Radial Position (mm)</text>
<text x="556" y="364.8" font-size="11.2" text-anchor="middle" fill="#000" stroke="#000" font-weight="bold">Onset of</text>
<text x="556.6" y="375.8" font-size="11.2" text-anchor="middle" fill="#000" stroke="#000" font-weight="bold">Vaporization</text>
<text x="600.7" y="381.6" font-size="11.2" text-anchor="start" fill="#000" stroke="#000" font-weight="bold">Departure</text>
<text x="600.7" y="399.5" font-size="11.2" text-anchor="start" fill="#000" stroke="#000" font-weight="bold">Moment of</text>
<text x="600.7" y="417.4" font-size="11.2" text-anchor="start" fill="#000" stroke="#000" font-weight="bold">Shock Wave</text>
<line x1="551.7" y1="382.2" x2="532.97" y2="442.24" stroke="#000" stroke-width="0.9"/>
<polygon points="528.8,455.6 529.64,440.15 536.9,442.41" fill="#000"/>
<line x1="603.2" y1="424" x2="585.77" y2="437.16" stroke="#000" stroke-width="0.9"/>
<polygon points="574.6,445.6 584.28,433.53 588.86,439.59" fill="#000"/>
</svg>
</body></html>
